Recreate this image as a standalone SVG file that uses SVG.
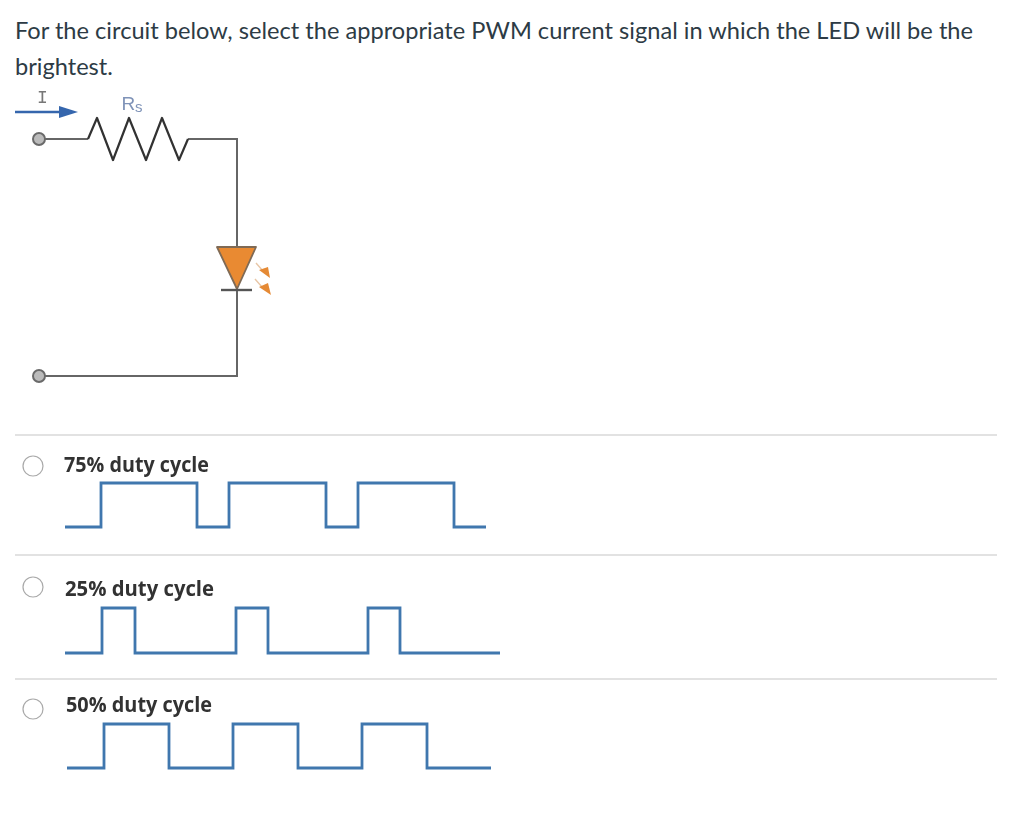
<svg xmlns="http://www.w3.org/2000/svg" width="1024" height="816" viewBox="0 0 1024 816">
<defs><style>
.q{font-family:Lato,"Liberation Sans",sans-serif;font-size:23.6px;fill:#2d3b45}
.lab{font-family:"Open Sans","Liberation Sans",sans-serif;font-weight:700;font-size:22px;fill:#333}
.w{fill:none;stroke:#666;stroke-width:2}
.t{fill:#bbb;stroke:#6a6a6a;stroke-width:2}
.sig{fill:none;stroke:#3f77ae;stroke-width:2.8}
.sep{stroke:#d9d9d9;stroke-width:1.3}
.rb{fill:#fff;stroke:#a9a9a9;stroke-width:1.2}
</style>
<filter id="soft" x="-5%" y="-5%" width="110%" height="110%"><feGaussianBlur stdDeviation="0.45"/></filter>
</defs>
<rect width="1024" height="816" fill="#fff"/>
<text class="q" x="15" y="39" textLength="958" lengthAdjust="spacing">For the circuit below, select the appropriate PWM current signal in which the LED will be the</text>
<text class="q" x="15" y="75">brightest.</text>
<g id="connectors" filter="url(#soft)">
<path class="w" d="M45 139H88M188 139H237V247M237 290V376H45"/>
<path d="M15 112H62" stroke="#3566ad" stroke-width="2.4" fill="none"/>
<path d="M59 106L78 112L59 118Z" fill="#3566ad"/>
</g>
<g id="terminal-top" filter="url(#soft)"><circle class="t" cx="39" cy="139" r="6"/></g>
<g id="terminal-bottom" filter="url(#soft)"><circle class="t" cx="39" cy="376" r="6"/></g>
<g id="current-label" filter="url(#soft)"><text x="42.500" y="103" text-anchor="middle" font-family="'Liberation Mono',monospace" font-size="18" fill="#777">I</text></g>
<g id="resistor" filter="url(#soft)">
<path d="M88 139L97 118L113 160L129 118L146 160L162 118L179 160L188 139" fill="none" stroke="#333" stroke-width="2.2" stroke-linejoin="round"/>
<text x="132" y="110" text-anchor="middle" font-family="'Liberation Sans',sans-serif" font-size="19" fill="#7f93b8">R<tspan font-size="15" dy="2">s</tspan></text>
</g>
<g id="led" filter="url(#soft)">
<path d="M217 247H256L237 289Z" fill="#e98a32" stroke="#7f6a55" stroke-width="1.8" stroke-linejoin="round"/>
<path d="M221 290H252" stroke="#555" stroke-width="2.4"/>
<path d="M256 263L263 271M255 279L262 287" stroke="#e8c6a6" stroke-width="1.4"/>
<path d="M259 270L268 267L270 278Z M259 287L268 283L271 295Z" fill="#e58a35"/>
</g>
<line class="sep" x1="15" y1="435" x2="997" y2="435"/>
<line class="sep" x1="15" y1="555" x2="997" y2="555"/>
<line class="sep" x1="15" y1="679" x2="997" y2="679"/>
<g id="option-75">
<circle class="rb" cx="33" cy="466" r="10"/>
<g filter="url(#soft)">
<text class="lab" x="64" y="472" textLength="145" lengthAdjust="spacingAndGlyphs">75% duty cycle</text>
<path class="sig" d="M65 527H101V483H197V527H229V483H326V527H358V483H454V527H486"/>
</g>
</g>
<g id="option-25">
<circle class="rb" cx="33" cy="587" r="10"/>
<g filter="url(#soft)">
<text class="lab" x="65" y="596" textLength="149" lengthAdjust="spacingAndGlyphs">25% duty cycle</text>
<path class="sig" d="M65 653H102V608H135V653H236V608H268V653H368V608H400V653H500"/>
</g>
</g>
<g id="option-50">
<circle class="rb" cx="33" cy="709" r="10"/>
<g filter="url(#soft)">
<text class="lab" x="66" y="712" textLength="146" lengthAdjust="spacingAndGlyphs">50% duty cycle</text>
<path class="sig" d="M67 768H104V724H169V768H233V724H298V768H362V724H427V768H491"/>
</g>
</g>
</svg>
